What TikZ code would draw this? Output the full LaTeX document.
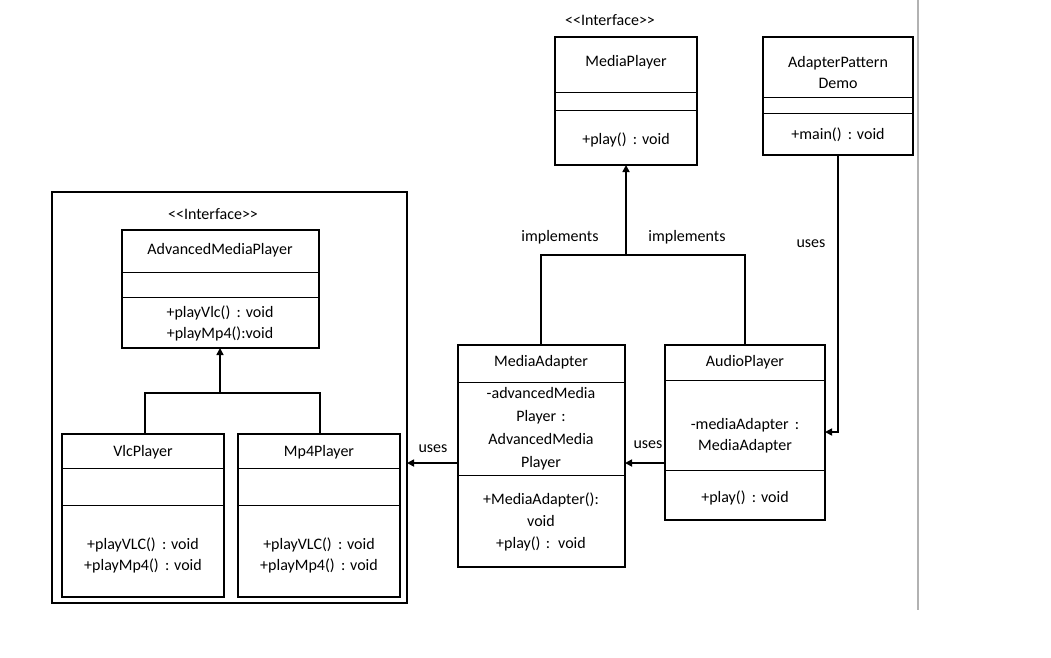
\documentclass[tikz,border=0pt]{standalone}
\usepackage{fontspec}
\setmainfont{Carlito}
\usetikzlibrary{arrows.meta}
\newcommand{\iface}{<\kern0pt<\kern0pt Interface\kern0pt>\kern0pt>}
\begin{document}
\begin{tikzpicture}[x=1pt,y=-1pt,
  box/.style={draw,line width=1.3pt},
  sep/.style={line width=1pt},
  txt/.style={inner sep=0pt,font=\fontsize{16}{21}\selectfont,align=center},
  conn/.style={line width=1.6pt},
  arr/.style={conn,-{Triangle[length=7pt,width=7pt]}}]
\useasboundingbox (0,0) rectangle (1051,657);
\draw[gray!60,line width=1.5pt] (918,0) -- (918,610);
% MediaPlayer
\node[txt] (mpi) at (610,20) {\iface};
\draw[box] (555,37) rectangle (697,165);
\coordinate (mpB) at (626,165);
\draw[sep] (555,92) -- (697,92) (555,110) -- (697,110);
\node[txt] (mpt) at (626,62) {MediaPlayer};
\node[txt] (mpm) at (626,140) {+play()\, : void};
% AdapterPatternDemo
\draw[box] (763,37) rectangle (913,155);
\draw[sep] (763,97) -- (913,97) (763,113) -- (913,113);
\node[txt] (apd) at (838,72) {AdapterPattern\\Demo};
\node[txt] (apm) at (838,135) {+main()\, : void};
\coordinate (apdB) at (838,155);
% container
\draw[box] (52,192) rectangle (407,603);
\coordinate (contR) at (407,463);
\node[txt] (ami) at (213,214) {\iface};
\draw[box] (122,230) rectangle (319,348);
\draw[sep] (122,272) -- (319,272) (122,297) -- (319,297);
\node[txt] (amt) at (220,250) {AdvancedMediaPlayer};
\node[txt] (amm) at (220,323) {+playVlc()\, : void\\+playMp4():void};
\coordinate (amB) at (220,348);
% Vlc
\draw[box] (62,434) rectangle (224,597);
\draw[sep] (62,468) -- (224,468) (62,505) -- (224,505);
\node[txt] (vt) at (143,452) {VlcPlayer};
\node[txt] (vm) at (143,555) {+playVLC()\, : void\\+playMp4()\, : void};
\coordinate (vT) at (145,434);
% Mp4
\draw[box] (238,434) rectangle (400,597);
\draw[sep] (238,468) -- (400,468) (238,505) -- (400,505);
\node[txt] (m4t) at (319,452) {Mp4Player};
\node[txt] (m4m) at (319,555) {+playVLC()\, : void\\+playMp4()\, : void};
\coordinate (m4T) at (320,434);
\draw[conn] (vT) |- (320,393) -- (m4T);
\draw[arr] (220,393) -- (amB);
% MediaAdapter
\draw[box] (458,345) rectangle (625,567);
\draw[sep] (458,382) -- (625,382) (458,475) -- (625,475);
\node[txt] (mat) at (541,362) {MediaAdapter};
\node[txt,text width=160pt] (maa) at (541,429) {\baselineskip=23pt -advancedMedia\\Player :\\AdvancedMedia\\Player\par};
\node[txt,text width=160pt] (mam) at (541,522) {\baselineskip=22pt +MediaAdapter():\\void\\+play() : void\par};
\coordinate (maT) at (541,345);
\coordinate (maL) at (458,463);
\coordinate (maR) at (625,463);
% AudioPlayer
\draw[box] (665,345) rectangle (825,520);
\draw[sep] (665,380) -- (825,380) (665,470) -- (825,470);
\node[txt] (aut) at (745,362) {AudioPlayer};
\node[txt] (aua) at (745,436) {-mediaAdapter\, :\\MediaAdapter};
\node[txt] (aum) at (745,498) {+play()\, : void};
\coordinate (auT) at (745,345);
\coordinate (auL) at (665,463);
\coordinate (auR) at (825,432);
% connectors
\draw[conn] (maT) |- (745,255) -- (auT);
\draw[arr] (626,255) -- (mpB);
\node[txt] (im1) at (560,237) {implements};
\node[txt] (im2) at (687,237) {implements};
\draw[arr] (apdB) |- (auR);
\node[txt] (u1) at (811,244) {uses};
\draw[arr] (auL) -- (maR);
\node[txt] (u2) at (648,445) {uses};
\draw[arr] (maL) -- (contR);
\node[txt] (u3) at (433,449) {uses};
\end{tikzpicture}
\end{document}
